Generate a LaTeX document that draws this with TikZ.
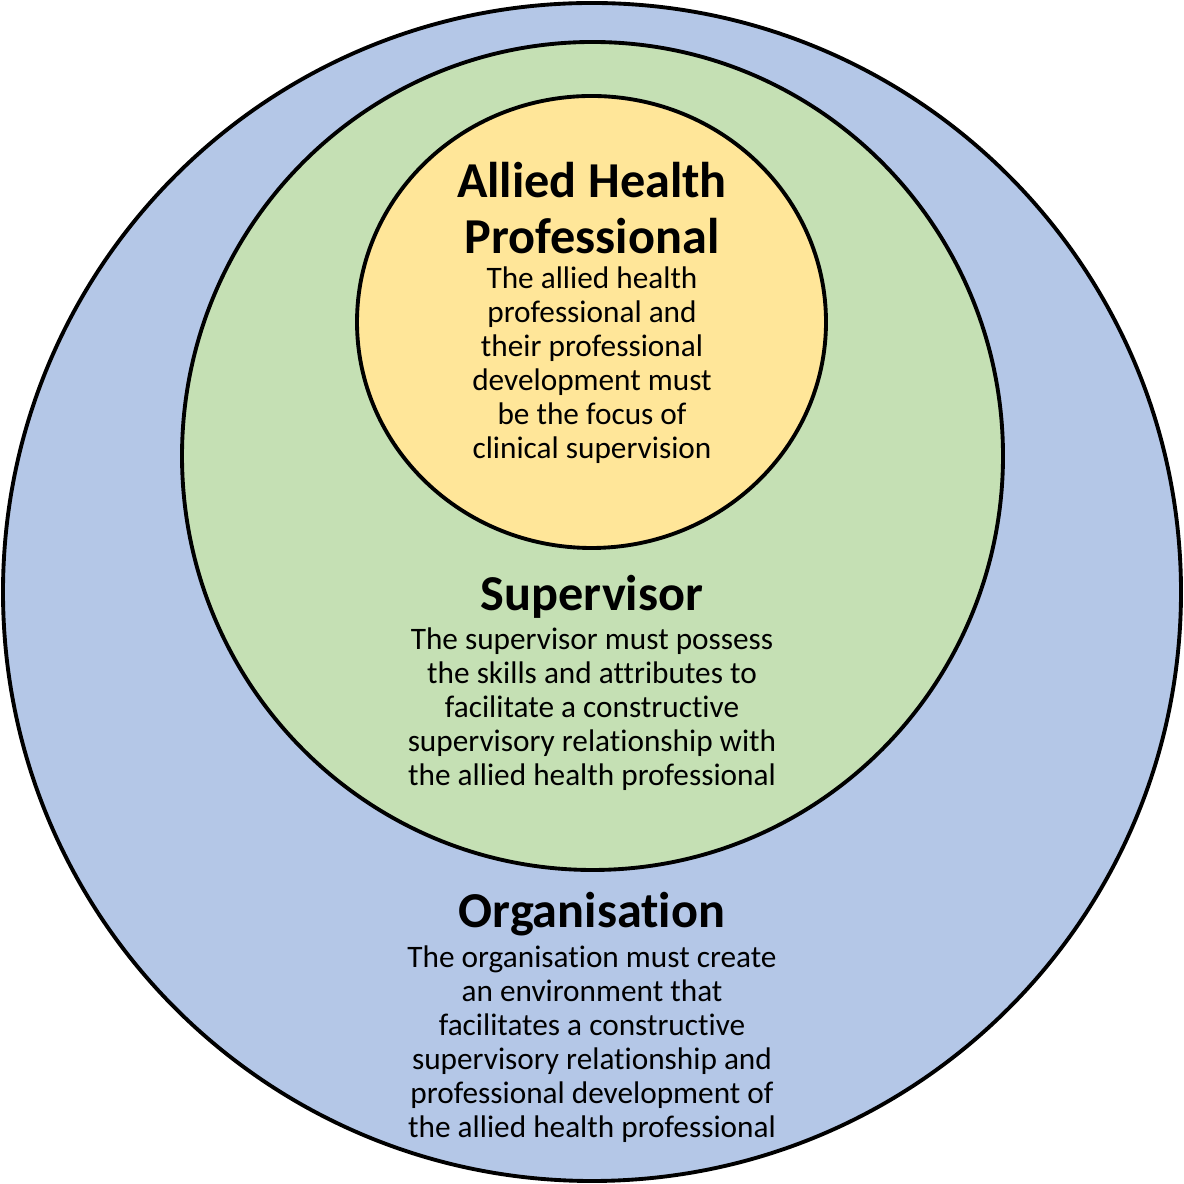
\documentclass[tikz,border=0pt]{standalone}
\usepackage{fontspec}
\setmainfont{Carlito}[Ligatures=NoCommon]
\usetikzlibrary{positioning,shapes.geometric}
\definecolor{orgblue}{HTML}{B4C7E7}
\definecolor{supgreen}{HTML}{C5E0B4}
\definecolor{ahpyellow}{HTML}{FFE699}
\tikzset{ring/.style={ellipse,draw=black,line width=1.1pt,inner sep=0pt}, head/.style={align=center,font=\fontsize{14.3}{15.9}\selectfont\bfseries,inner sep=0pt}, body/.style={align=center,font=\fontsize{8.9}{9.67}\selectfont,inner sep=0pt}}

\begin{document}
\begin{tikzpicture}[x=1cm,y=1cm]
\useasboundingbox(0,0)rectangle(11.84,11.84);
\node[ring,fill=orgblue,minimum width=11.78cm,minimum height=11.78cm](org)at(5.92,5.92){};
\node[ring,fill=supgreen,minimum width=8.21cm,minimum height=8.28cm](sup)at(5.925,7.28){};
\node[ring,fill=ahpyellow,minimum width=4.69cm,minimum height=4.52cm](ahp)at(5.915,8.62){};
\node[head](ahph)at(5.92,9.76){Allied Health\\Professional};
\node[body](ahpb)at(5.92,8.19){The allied health\\professional and\\their professional\\development must\\be the focus of\\clinical supervision};
\node[head](suph)at(5.92,5.87){Supervisor};
\node[body](supb)at(5.92,4.75){The supervisor must possess\\the skills and attributes to\\facilitate a constructive\\supervisory relationship with\\the allied health professional};
\node[head](orgh)at(5.92,2.70){Organisation};
\node[body](orgb)at(5.92,1.40){The organisation must create\\an environment that\\facilitates a constructive\\supervisory relationship and\\professional development of\\the allied health professional};
\end{tikzpicture}
\end{document}
